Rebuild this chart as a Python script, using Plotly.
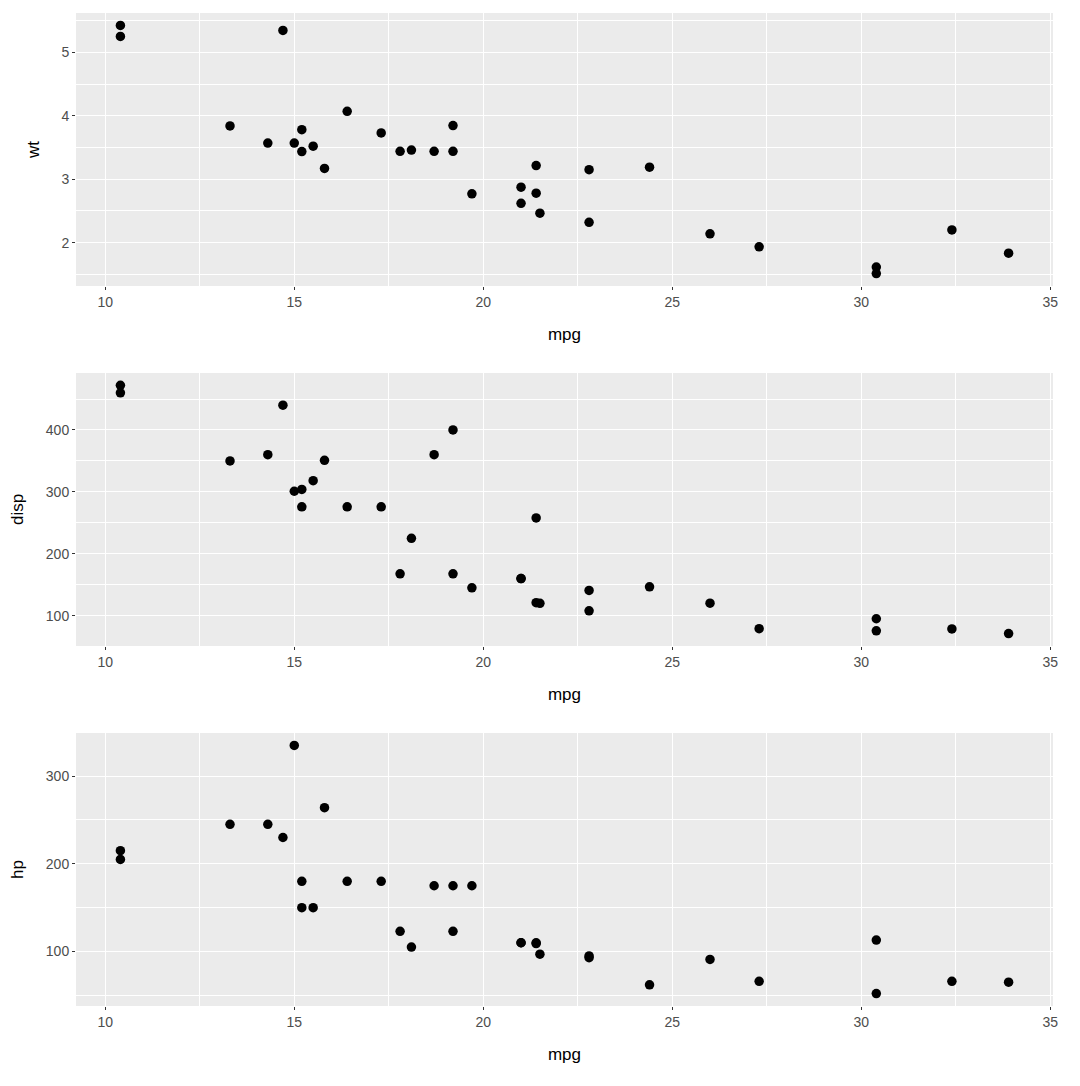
import plotly.graph_objects as go

# mtcars
mpg = [21.0, 21.0, 22.8, 21.4, 18.7, 18.1, 14.3, 24.4, 22.8, 19.2, 17.8, 16.4, 17.3, 15.2, 10.4, 10.4,
       14.7, 32.4, 30.4, 33.9, 21.5, 15.5, 15.2, 13.3, 19.2, 27.3, 26.0, 30.4, 15.8, 19.7, 15.0, 21.4]
wt = [2.620, 2.875, 2.320, 3.215, 3.440, 3.460, 3.570, 3.190, 3.150, 3.440, 3.440, 4.070, 3.730, 3.780,
      5.250, 5.424, 5.345, 2.200, 1.615, 1.835, 2.465, 3.520, 3.435, 3.840, 3.845, 1.935, 2.140, 1.513,
      3.170, 2.770, 3.570, 2.780]
disp = [160, 160, 108, 258, 360, 225, 360, 146.7, 140.8, 167.6, 167.6, 275.8, 275.8, 275.8, 472, 460,
        440, 78.7, 75.7, 71.1, 120.1, 318, 304, 350, 400, 79, 120.3, 95.1, 351, 145, 301, 121]
hp = [110, 110, 93, 110, 175, 105, 245, 62, 95, 123, 123, 180, 180, 180, 205, 215, 230, 66, 52, 65, 97,
      150, 150, 245, 175, 66, 91, 113, 264, 175, 335, 109]

panels = [("wt", wt, [2, 3, 4, 5], [1.5, 2.5, 3.5, 4.5, 5.5]),
          ("disp", disp, [100, 200, 300, 400], [50, 150, 250, 350, 450]),
          ("hp", hp, [100, 200, 300], [50, 150, 250, 350])]

fig = go.Figure()
domains = [(0.7251, 1.0), (0.3625, 0.6375), (0.0, 0.2749)]
font = "Liberation Sans, Arial"

def pad(vals):
    lo, hi = min(vals), max(vals)
    d = (hi - lo) * 0.05
    return [lo - d, hi + d]

for i, (name, vals, major, minor) in enumerate(panels):
    n = "" if i == 0 else str(i + 1)
    fig.add_trace(go.Scatter(x=mpg, y=vals, mode="markers", xaxis="x" + n, yaxis="y" + n,
                             marker=dict(color="black", size=9.5), showlegend=False))
    axis_common = dict(showline=False, zeroline=False, gridcolor="white", gridwidth=1.2,
                       ticks="outside", ticklen=3, tickwidth=1, tickcolor="#333333",
                       tickfont=dict(family=font, size=14, color="#4D4D4D"))
    fig.update_layout(**{
        "xaxis" + n: dict(axis_common, anchor="y" + n, range=pad(mpg),
                          tickvals=[10, 15, 20, 25, 30, 35],
                          minor=dict(tickvals=[12.5, 17.5, 22.5, 27.5, 32.5], showgrid=True,
                                     gridcolor="white", gridwidth=0.6, ticks=""),
                          title=dict(text="mpg", standoff=19,
                                     font=dict(family=font, size=17, color="black"))),
        "yaxis" + n: dict(axis_common, anchor="x" + n, domain=domains[i], range=pad(vals),
                          tickvals=major,
                          minor=dict(tickvals=minor, showgrid=True, gridcolor="white",
                                     gridwidth=0.6, ticks=""),
                          title=dict(text=name, standoff=17,
                                     font=dict(family=font, size=17, color="black"))),
    })

fig.update_layout(width=1080, height=1086, plot_bgcolor="#EBEBEB", paper_bgcolor="white",
                  margin=dict(l=68, r=35, t=5, b=88))

fig.write_html("out.html")
